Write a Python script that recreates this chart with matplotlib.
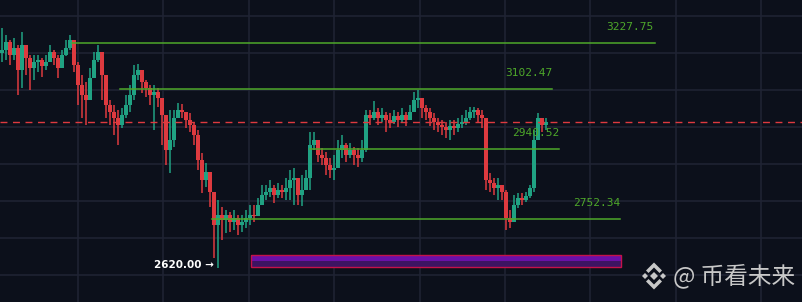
import matplotlib.pyplot as plt
from matplotlib.patches import Rectangle, Polygon
import numpy as np

# candle data (one candle per step), prices
close = [3209, 3230, 3195, 3214, 3155, 3222, 3187, 3160, 3176, 3182,
         3166, 3176, 3203, 3187, 3160, 3195, 3214, 3236, 3168, 3114,
         3087, 3074, 3133, 3182, 3203, 3141, 3060, 3041, 3025, 3006,
         3033, 3060, 3087, 3141, 3155, 3122, 3106, 3087, 3095, 3079,
         3033, 2939, 2966, 3025, 3047, 3041, 3020, 3006, 2979, 2912,
         2858, 2879, 2825, 2736, 2763, 2750, 2763, 2744, 2755, 2736,
         2744, 2755, 2763, 2760, 2790, 2817, 2825, 2836, 2817, 2831,
         2825, 2836, 2858, 2863, 2817, 2831, 2863, 2952, 2966, 2925,
         2917, 2898, 2885, 2890, 2939, 2952, 2925, 2939, 2925, 2917,
         2939, 3033, 3025, 3041, 3025, 3033, 3020, 3014, 3031, 3020,
         3033, 3020, 3041, 3074, 3079, 3052, 3041, 3025, 3014, 3006,
         3001, 2993, 3004, 2998, 3009, 3014, 3025, 3041, 3047, 3033,
         3025, 2858, 2850, 2836, 2844, 2825, 2755, 2744, 2790, 2809,
         2804, 2815, 2836, 2966, 3025, 3006, 3014]
high = [3268, 3249, 3236, 3241, 3222, 3257, 3222, 3195, 3195, 3195,
        3187, 3195, 3222, 3209, 3195, 3209, 3236, 3249, 3236, 3176,
        3141, 3122, 3160, 3203, 3222, 3190, 3101, 3074, 3060, 3047,
        3052, 3087, 3114, 3168, 3171, 3149, 3128, 3114, 3114, 3106,
        3074, 2979, 3047, 3047, 3066, 3063, 3041, 3039, 3012, 2993,
        2931, 2904, 2858, 2804, 2804, 2785, 2777, 2771, 2777, 2763,
        2763, 2777, 2790, 2790, 2809, 2844, 2844, 2858, 2844, 2850,
        2844, 2863, 2885, 2890, 2858, 2871, 2885, 2987, 2987, 2952,
        2944, 2933, 2917, 2925, 2966, 2979, 2958, 2958, 2947, 2944,
        2966, 3047, 3047, 3071, 3052, 3052, 3041, 3039, 3047, 3041,
        3052, 3041, 3060, 3095, 3101, 3074, 3060, 3052, 3039, 3025,
        3020, 3014, 3020, 3020, 3025, 3033, 3047, 3055, 3055, 3052,
        3047, 3006, 2877, 2863, 2863, 2844, 2831, 2777, 2817, 2823,
        2823, 2825, 2844, 2993, 3039, 3025, 3025]
low = [3176, 3182, 3168, 3182, 3087, 3106, 3141, 3101, 3128, 3149,
       3136, 3155, 3176, 3168, 3133, 3182, 3193, 3209, 3149, 3060,
       3025, 3006, 3087, 3141, 3176, 3074, 3025, 3006, 2979, 2952,
       2998, 3025, 3041, 3074, 3128, 3093, 3082, 3060, 2993, 3055,
       2952, 2898, 2877, 2947, 3033, 3025, 2998, 2987, 2952, 2885,
       2823, 2839, 2785, 2647, 2620, 2696, 2715, 2717, 2723, 2709,
       2717, 2728, 2736, 2744, 2763, 2790, 2804, 2812, 2796, 2809,
       2809, 2804, 2804, 2790, 2790, 2788, 2831, 2831, 2939, 2906,
       2898, 2871, 2863, 2858, 2906, 2917, 2906, 2917, 2898, 2893,
       2906, 2933, 3006, 3020, 3006, 3014, 2987, 2998, 3009, 3001,
       3014, 3004, 3020, 3041, 3052, 3025, 3020, 3004, 2993, 2987,
       2979, 2971, 2966, 2979, 2987, 2998, 3006, 3020, 3025, 3014,
       2998, 2831, 2825, 2817, 2804, 2804, 2723, 2728, 2763, 2782,
       2790, 2798, 2809, 2825, 2979, 2987, 2993]
open_ = [3200] + close[:-1]

levels = [3227.75, 3102.47, 2940.52, 2752.34]
level_spans = [(17.5, 163.25), (29.5, 137.5), (77, 139.25), (52.5, 154.5)]
label_pos = [(162.75, 3271), (137.5, 3146), (139.25, 2985), (154.5, 2796)]
last_price = 3014
low_price = 2620.00
low_index = 54
zone = (2623, 2655)
zone_span = (62.25, 154.75)

bg = "#0c101b"
up_c = "#20a283"
dn_c = "#de3a3f"
lvl_c = "#4ea82a"

fig = plt.figure(figsize=(8.02, 3.02), dpi=100, facecolor=bg)
ax = fig.add_axes([0, 0, 1, 1])
ax.set_facecolor(bg)
ax.set_xlim(-0.5, 200)
ax.set_ylim(2528.45, 3343.85)
ax.axis("off")

# grid
for gx in 19 + 21.35 * np.arange(9):
    ax.axvline(gx, color="#1f2333", lw=1.2, zorder=0)
for gy in range(2600, 3400, 100):
    ax.axhline(gy, color="#1f2333", lw=1.2, zorder=0)

# candles
x = np.arange(len(close))
o = np.array(open_)
c = np.array(close)
cols = [up_c if cc >= oo else dn_c for oo, cc in zip(o, c)]
ax.vlines(x, low, high, colors=cols, lw=1.1, zorder=2)
bottoms = np.minimum(o, c)
heights = np.maximum(np.abs(c - o), 2)
ax.bar(x, heights, bottom=bottoms, width=0.85, color=cols, lw=0, zorder=3)

# support / resistance levels
for lv, (a, b), (tx, ty) in zip(levels, level_spans, label_pos):
    ax.plot([a, b], [lv, lv], color=lvl_c, lw=1.1, zorder=4)
    ax.text(tx, ty, f"{lv:.2f}", color=lvl_c, ha="right", va="center",
            fontsize=8, family="DejaVu Sans Mono", zorder=6)

# last price line
ax.axhline(last_price, color=dn_c, lw=1, ls=(0, (5, 4)), zorder=4)

# zone box
z0, z1 = zone
zm = (z0 + z1) / 2
ax.add_patch(Rectangle((zone_span[0], zm), zone_span[1] - zone_span[0], z1 - zm,
                       facecolor="#6a10a8", edgecolor="none", zorder=4))
ax.add_patch(Rectangle((zone_span[0], z0), zone_span[1] - zone_span[0], zm - z0,
                       facecolor="#3d1462", edgecolor="none", zorder=4))
ax.add_patch(Rectangle((zone_span[0], z0), zone_span[1] - zone_span[0], z1 - z0,
                       facecolor="none", edgecolor="#c4124a", lw=1, zorder=5))

# low marker
ax.text(low_index - 1.0, low_price + 9, f"{low_price:.2f} →", color="white",
        ha="right", va="center", fontsize=7.5, fontweight="bold", zorder=6)

# watermark (binance-like logo + handle)
wm = "#c8c8c8"
lx, ly = 654, 276

def px(dx, dy):
    return fig.transFigure.inverted().transform((lx + dx, 302 - (ly + dy)))

def shape(pts):
    fig.patches.append(Polygon([px(a, b) for a, b in pts], closed=True,
                               transform=fig.transFigure, facecolor=wm,
                               edgecolor="none", zorder=7))

shape([(0, -4), (4, 0), (0, 4), (-4, 0)])
shape([(-9, -3), (-6, 0), (-9, 3), (-12, 0)])
shape([(9, -3), (12, 0), (9, 3), (6, 0)])
for s in (-1, 1):
    shape([(0, 13.5 * s), (8, 5.5 * s), (5.5, 3 * s), (0, 8.5 * s),
           (-5.5, 3 * s), (-8, 5.5 * s)])
fig.text(673 / 802, 1 - 277 / 302, "@ 币看未来", color=wm, fontsize=17,
         ha="left", va="center", family=["Noto Sans CJK SC", "DejaVu Sans"])

fig.savefig("out.png", dpi=100, facecolor=bg)
